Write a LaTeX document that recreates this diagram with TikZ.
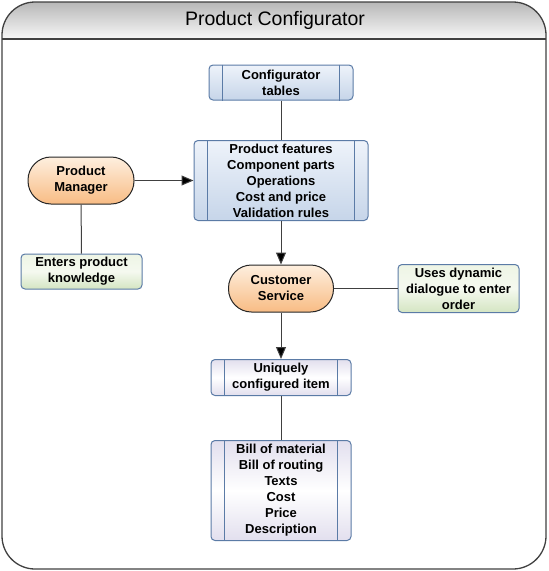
\documentclass[tikz,border=0pt]{standalone}
\usepackage{fontspec}
\setmainfont{Liberation Sans}
\usetikzlibrary{arrows.meta}
\definecolor{edgeblue}{HTML}{5B7BA6}
\definecolor{framecol}{HTML}{404040}
\definecolor{linegray}{HTML}{404040}
\definecolor{blueTop}{HTML}{EEF3FA}
\definecolor{blueBot}{HTML}{C6D5E9}
\definecolor{lavA}{HTML}{E2DFEE}
\definecolor{orTop}{HTML}{FEEFDF}
\definecolor{orBot}{HTML}{F8BC84}
\definecolor{grTop}{HTML}{EEF5E5}
\definecolor{grBot}{HTML}{D4E5C2}
\tikzset{
  base/.style={font=\fontsize{13}{16}\selectfont\bfseries, align=center, inner sep=0pt, line width=1pt, text=black},
  bluebox/.style={base, rectangle, rounded corners=4pt, draw=edgeblue, top color=blueTop, bottom color=blueBot},
  lavbox/.style={base, rectangle, rounded corners=4pt, draw=edgeblue, top color=lavA, bottom color=lavA, middle color=white},
  pill/.style={base, rectangle, rounded corners=23pt, draw=black!85, top color=orTop, bottom color=orBot},
  greenbox/.style={base, rectangle, rounded corners=4pt, draw=edgeblue, top color=grTop, bottom color=grBot, middle color=grTop!60!white},
  conn/.style={draw=linegray, line width=1pt},
  arr/.style={conn, -{Triangle[length=12pt,width=10pt,fill=black]}},
  sepline/.style={draw=edgeblue, line width=1pt}
}
\begin{document}
\begin{tikzpicture}[x=1pt,y=-1pt]
\useasboundingbox (0,0) rectangle (549,571);
% frame and header
\begin{scope}
  \clip[rounded corners=33pt] (2,2) rectangle (546,569);
  \shade[top color=black!28, bottom color=black!3] (2,2) rectangle (546,39);
\end{scope}
\draw[draw=framecol, line width=1.3pt, rounded corners=33pt] (2,2) rectangle (546,569);
\draw[draw=framecol, line width=1.3pt] (2,39) -- (546,39);
\node[font=\fontsize{19.5}{22}\selectfont] (title) at (275,20) {Product Configurator};

% nodes
\node[bluebox, minimum width=144pt, minimum height=35pt] (cfg) at (281,82.5) {Configurator\\tables};
\node[bluebox, minimum width=174pt, minimum height=80pt] (feat) at (281,180.5) {Product features\\Component parts\\Operations\\Cost and price\\Validation rules};
\node[pill, minimum width=106pt, minimum height=47pt] (pm) at (81,180.5) {Product\\Manager};
\node[greenbox, minimum width=121pt, minimum height=35pt] (enters) at (81.5,271.5) {Enters product\\knowledge};
\node[pill, minimum width=105pt, minimum height=47pt] (cs) at (281,288.5) {Customer\\Service};
\node[greenbox, minimum width=121pt, minimum height=48pt] (uses) at (458.5,288.5) {Uses dynamic\\dialogue to enter\\order};
\node[lavbox, minimum width=140pt, minimum height=36pt] (uniq) at (281,377.5) {Uniquely\\configured item};
\node[lavbox, minimum width=140pt, minimum height=100pt] (bill) at (281,490.5) {Bill of material\\Bill of routing\\Texts\\Cost\\Price\\Description};

% inner vertical bars
\foreach \n in {cfg,feat,uniq,bill}{
  \draw[sepline] ([xshift=14pt]\n.north west) -- ([xshift=14pt]\n.south west);
  \draw[sepline] ([xshift=-14pt]\n.north east) -- ([xshift=-14pt]\n.south east);
}

% connectors
\draw[conn] (cfg) -- (feat);
\draw[arr] (pm) -- (feat);
\draw[arr] (feat) -- (cs);
\draw[conn] (pm) -- (enters);
\draw[conn] (cs) -- (uses);
\draw[arr] (cs) -- (uniq);
\draw[conn] (uniq) -- (bill);
\end{tikzpicture}
\end{document}
